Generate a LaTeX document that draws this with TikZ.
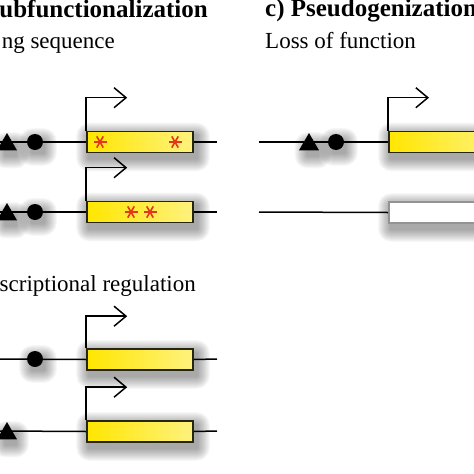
\documentclass[tikz,border=0pt]{standalone}
\usepackage{fontspec}
\setmainfont{Liberation Serif}
\usetikzlibrary{positioning,arrows.meta,calc,shapes.geometric}
\definecolor{gyellow}{HTML}{FFE600}
\definecolor{gpale}{HTML}{FFF27E}
\definecolor{mutred}{HTML}{E4361B}
\definecolor{boxline}{HTML}{262610}
\pgfdeclarelayer{shade}
\pgfsetlayers{shade,main}
\tikzset{
  dna/.style={line width=1.5pt},
  exon/.style={draw=boxline, line width=1.6pt, left color=gyellow, right color=gpale,
    minimum width=106pt, minimum height=21pt, inner sep=0pt},
  deadexon/.style={draw=gray!85, line width=1.6pt, fill=white,
    minimum width=110pt, minimum height=21pt, inner sep=0pt},
  enhancer/.style={circle, fill=black, minimum size=16pt, inner sep=0pt},
  silencer/.style={regular polygon, regular polygon sides=3, fill=black, minimum size=23pt, inner sep=0pt},
  tss/.style={line width=1.5pt, -{Straight Barb[length=12pt,width=20pt]}},
  heading/.style={font=\fontsize{25}{30}\selectfont\bfseries, inner sep=0pt},
  caption/.style={font=\fontsize{23}{28}\selectfont, inner sep=0pt}
}
% soft grey shadow under a node
\newcommand{\glow}[1]{%
  \foreach \s in {1,...,13}
    \fill[black, opacity=0.03, rounded corners=\s pt]
      ($(#1.north west)+(3-\s,5-\s)$) rectangle ($(#1.south east)+(3+\s,5+\s)$);}
% point mutation
\newcommand{\mutstar}[1]{%
  \foreach \a in {0,60,120}
    \draw[mutred, line width=1.6pt] (#1) ++(\a:6.5) -- ++(\a+180:13);}

\begin{document}
\begin{tikzpicture}[x=1pt, y=-1pt]
 \useasboundingbox (0,0) rectangle (474,474);
 % headings
 \node[heading, anchor=base east] (tb) at (208,17) {ubfunctionalization};
 \node[caption, anchor=base east] (cb1) at (115,48) {ng sequence};
 \node[caption, anchor=base east] (cb2) at (196,291) {scriptional regulation};
 \node[heading, anchor=base west] (tc) at (265,16) {c) Pseudogenization};
 \node[caption, anchor=base west] (cc) at (265,48) {Loss of function};

 % b) coding sequence
 \coordinate (a0) at (0,142); \coordinate (a1) at (217,142);
 \coordinate (b0) at (0,212); \coordinate (b1) at (217,212);
 \node[exon] (ea) at (140,142) {};
 \node[exon] (eb) at (140,212) {};
 \draw[dna] (a0) -- (ea.west) (ea.east) -- (a1);
 \draw[dna] (b0) -- (eb.west) (eb.east) -- (b1);
 \node[silencer] (sa) at (7,144.5) {};
 \node[enhancer] (na) at (35,142) {};
 \node[silencer] (sb) at (7,214.5) {};
 \node[enhancer] (nb) at (35,212) {};
 \draw[tss] (ea.north west) |- ++(41,-33);
 \draw[tss] (eb.north west) |- ++(41,-33);
 \mutstar{100,142} \mutstar{175,142}
 \mutstar{131,212} \mutstar{150,212}

 % b) transcriptional regulation
 \coordinate (c0) at (0,359); \coordinate (c1) at (217,359);
 \coordinate (d0) at (0,431); \coordinate (d1) at (217,431);
 \node[exon] (ec) at (140,359.5) {};
 \node[exon] (ed) at (140,431.5) {};
 \draw[dna] (c0) -- (ec.west) (ec.east) -- (c1);
 \draw[dna] (d0) -- (ed.west) (ed.east) -- (d1);
 \node[enhancer] (nc) at (35,359) {};
 \node[silencer] (sd) at (7,433.5) {};
 \draw[tss] (ec.north west) |- ++(41,-32);
 \draw[tss] (ed.north west) |- ++(41,-33);

 % c) pseudogenization
 \coordinate (e0) at (259,142); \coordinate (f0) at (259,212);
 \node[exon, minimum width=110pt, anchor=west] (ee) at (388,142) {};
 \node[deadexon, anchor=west] (ef) at (388,212.5) {};
 \draw[dna] (e0) -- (ee.west);
 \draw[dna] (f0) -- (ef.west);
 \node[silencer] (se) at (309,144.5) {};
 \node[enhancer] (ne) at (336,142) {};
 \draw[tss] (ee.north west) |- ++(41,-33);

 \begin{pgfonlayer}{shade}
  \foreach \n in {ea,eb,ec,ed,ee,ef,sa,na,sb,nb,nc,sd,se,ne} {\glow{\n}}
 \end{pgfonlayer}
\end{tikzpicture}
\end{document}
